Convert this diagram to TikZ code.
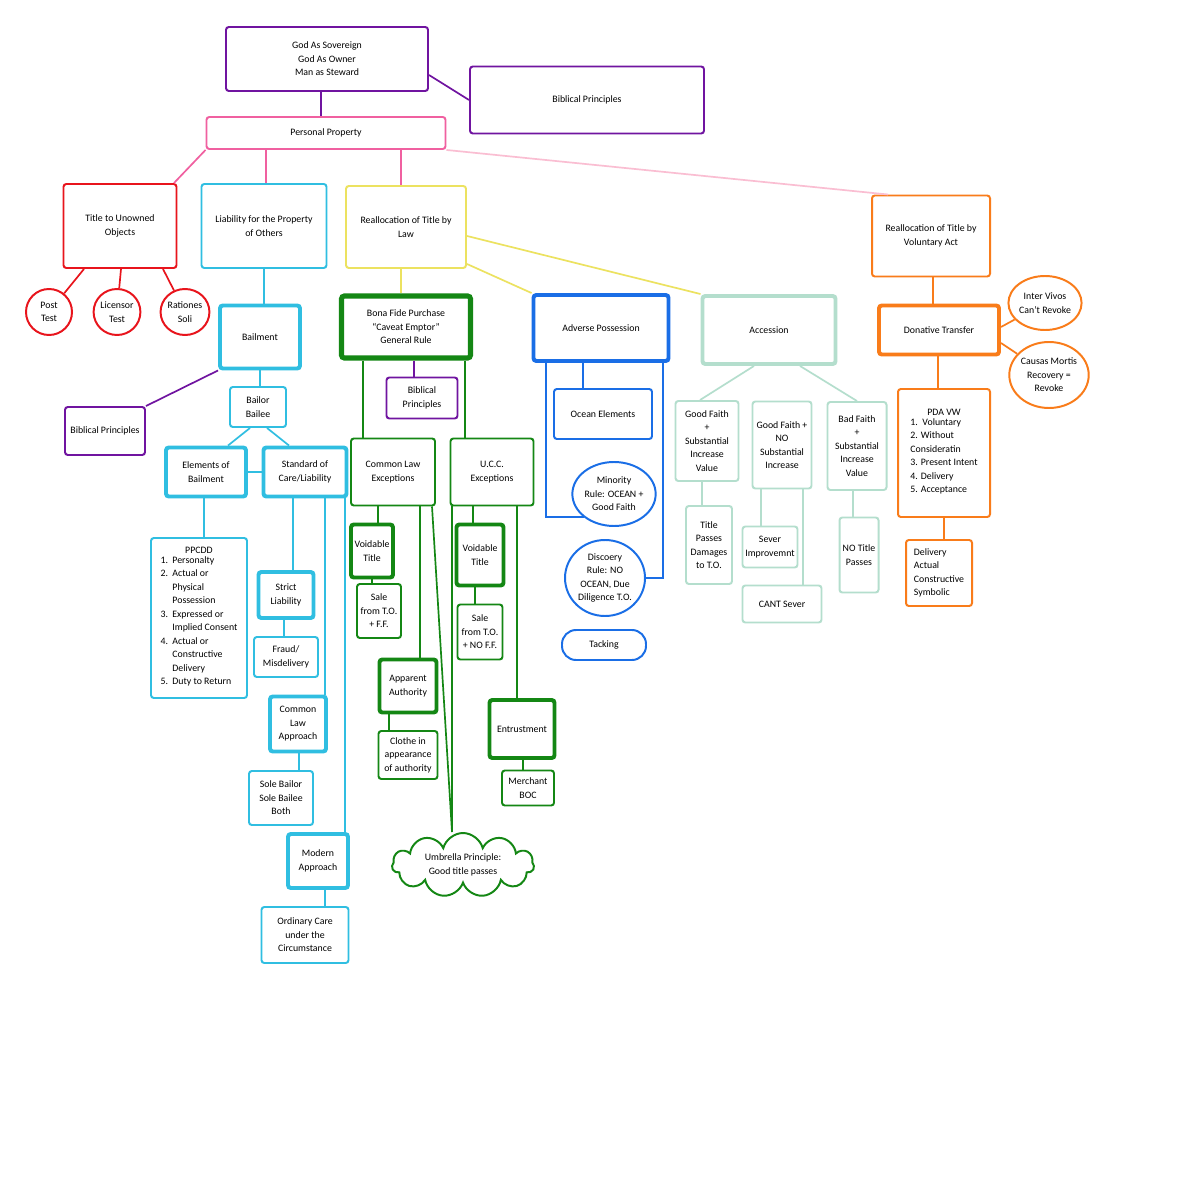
\documentclass[tikz,border=0pt]{standalone}
\usepackage{fontspec}
\setmainfont{Carlito}
\usetikzlibrary{shapes.geometric,shapes.symbols}
\definecolor{cpurple}{RGB}{112,20,160}
\definecolor{cpink}{RGB}{240,96,160}
\definecolor{cpinkl}{RGB}{250,190,210}
\definecolor{cred}{RGB}{232,20,28}
\definecolor{ccyan}{RGB}{48,190,225}
\definecolor{cyellow}{RGB}{236,226,96}
\definecolor{cgreen}{RGB}{20,135,20}
\definecolor{cblue}{RGB}{26,110,230}
\definecolor{cmint}{RGB}{180,222,205}
\definecolor{corange}{RGB}{249,124,26}
\begin{document}
\begin{tikzpicture}[x=0.025cm,y=-0.025cm,
  every node/.style={font=\fontsize{7}{9.6}\selectfont, align=center, inner sep=1pt},
  sz/.style 2 args={minimum width=#1*0.025cm, minimum height=#2*0.025cm},
  bx/.style={draw, rounded corners=2pt, line width=1.4pt},
  tk/.style={draw, rounded corners=2pt, line width=2.8pt},
  circ/.style={draw, ellipse, line width=1.4pt, inner sep=0pt},
  cn/.style={line width=1.2pt}]
\fill[white] (0,0) rectangle (1200,1200);
\useasboundingbox (0,0) rectangle (1200,1200);

% ---- top
\node[bx, draw=cpurple, sz={202}{64}] (god) at (327,59) {God As Sovereign\\God As Owner\\Man as Steward};
\node[bx, draw=cpurple, sz={234}{67}] (bib1) at (587,100) {Biblical Principles};
\node[bx, draw=cpink, sz={239}{32}] (pp) at (326,133) {Personal Property};

% ---- level 2
\node[bx, draw=cred, sz={113}{84}] (ttl) at (120,226) {Title to Unowned\\Objects};
\node[bx, draw=ccyan, sz={125}{84}] (liab) at (264,226) {Liability for the Property\\of Others};
\node[bx, draw=cyellow, sz={120}{82}] (rlaw) at (406,227) {Reallocation of Title by\\Law};
\node[bx, draw=corange, sz={118}{81}] (rvol) at (931,236) {Reallocation of Title by\\Voluntary Act};

% ---- red circles
\node[circ, draw=cred, sz={46}{46}] (post) at (49,312) {Post\\Test};
\node[circ, draw=cred, sz={46}{46}] (lic) at (117,312) {Licensor\\Test};
\node[circ, draw=cred, sz={46}{46}] (rat) at (185,312) {Rationes\\Soli};

% ---- cyan branch
\node[tk, draw=ccyan, sz={80}{63}] (bail) at (260,337) {Bailment};
\node[bx, draw=cpurple, sz={80}{48}] (bib2) at (105,431) {Biblical Principles};
\node[bx, draw=ccyan, sz={56}{40}] (bb) at (258,407) {Bailor\\Bailee};
\node[tk, draw=ccyan, sz={80}{49}] (elem) at (206,472) {Elements of\\Bailment};
\node[tk, draw=ccyan, sz={83}{49}] (std) at (305,472) {Standard of\\Care/Liability};
\node[bx, draw=ccyan, sz={96}{160}] (ppcdd) at (199,618) {PPCDD\\[-1pt]\begin{tabular}{@{}l@{\ \ }l@{}}1.&Personalty\\2.&Actual or\\&Physical\\&Possession\\3.&Expressed or\\&Implied Consent\\4.&Actual or\\&Constructive\\&Delivery\\5.&Duty to Return\end{tabular}};
\node[tk, draw=ccyan, sz={55}{46}] (strict) at (286,595) {Strict\\Liability};
\node[bx, draw=ccyan, sz={64}{40}] (fraud) at (286,657) {Fraud/\\Misdelivery};
\node[tk, draw=ccyan, sz={56}{55}] (cla) at (298,724) {Common\\Law\\Approach};
\node[bx, draw=ccyan, sz={64}{54}] (sole) at (281,798) {Sole Bailor\\Sole Bailee\\Both};
\node[tk, draw=ccyan, sz={60}{54}] (modern) at (318,861) {Modern\\Approach};
\node[bx, draw=ccyan, sz={87}{56}] (ord) at (305,935) {Ordinary Care\\under the\\Circumstance};

% ---- green branch
\node[tk, draw=cgreen, line width=3.6pt, sz={129}{62}] (bfp) at (406,327) {Bona Fide Purchase\\``Caveat Emptor''\\General Rule};
\node[bx, draw=cpurple, sz={71}{41}] (bib3) at (422,398) {Biblical\\Principles};
\node[bx, draw=cgreen, sz={84}{67}] (cle) at (393,472) {Common Law\\Exceptions};
\node[bx, draw=cgreen, sz={83}{67}] (ucc) at (492,472) {U.C.C.\\Exceptions};
\node[tk, draw=cgreen, sz={42}{53}] (vt1) at (372,551) {Voidable\\Title};
\node[bx, draw=cgreen, sz={44}{54}] (sale1) at (379,611) {Sale\\from T.O.\\+ F.F.};
\node[tk, draw=cgreen, sz={57}{53}] (appa) at (408,686) {Apparent\\Authority};
\node[bx, draw=cgreen, sz={59}{48}] (clothe) at (408,755) {Clothe in\\appearance\\of authority};
\node[tk, draw=cgreen, sz={47}{61}] (vt2) at (480,555) {Voidable\\Title};
\node[bx, draw=cgreen, sz={45}{55}] (sale2) at (480,632) {Sale\\from T.O.\\+ NO F.F.};
\node[tk, draw=cgreen, sz={65}{58}] (ent) at (522,729) {Entrustment};
\node[bx, draw=cgreen, sz={52}{35}] (merch) at (528,788) {Merchant\\BOC};
\node[cloud, draw=cgreen, line width=1.4pt, cloud puffs=11, cloud ignores aspect, sz={142}{64}] (umb) at (463,865) {Umbrella Principle:\\Good title passes};

% ---- blue branch
\node[tk, draw=cblue, sz={135}{66}] (ap) at (601,328) {Adverse Possession};
\node[bx, draw=cblue, sz={98}{50}] (ocean) at (603,414) {Ocean Elements};
\node[circ, draw=cblue, sz={74}{64}] (minor) at (614,494) {Minority\\Rule: OCEAN +\\Good Faith};
\node[circ, draw=cblue, sz={80}{76}] (disc) at (605,578) {Discoery\\Rule: NO\\OCEAN, Due\\Diligence T.O.};
\node[draw=cblue, line width=1.4pt, rounded corners=10pt, sz={84}{30}] (tack) at (604,645) {Tacking};

% ---- mint branch
\node[tk, draw=cmint, sz={133}{68}] (acc) at (769,330) {Accession};
\node[bx, draw=cmint, sz={63}{80}] (gf1) at (707,441) {Good Faith\\+\\Substantial\\Increase\\Value};
\node[bx, draw=cmint, sz={59}{87}] (gf2) at (782,445) {Good Faith +\\NO\\Substantial\\Increase};
\node[bx, draw=cmint, sz={59}{88}] (bf) at (857,446) {Bad Faith\\+\\Substantial\\Increase\\Value};
\node[bx, draw=cmint, sz={46}{78}] (tp) at (709,545) {Title\\Passes\\Damages\\to T.O.};
\node[bx, draw=cmint, sz={55}{41}] (sever) at (770,547) {Sever\\Improvemnt};
\node[bx, draw=cmint, sz={79}{37}] (cant) at (782,604) {CANT Sever};
\node[bx, draw=cmint, sz={39}{75}] (notp) at (859,555) {NO Title\\Passes};

% ---- orange branch
\node[tk, draw=corange, sz={120}{49}] (don) at (939,330) {Donative Transfer};
\node[circ, draw=corange, sz={68}{54}] (iv) at (1045,303) {Inter Vivos\\Can't Revoke};
\node[circ, draw=corange, sz={76}{66}] (cm) at (1049,375) {Causas Mortis\\Recovery =\\Revoke};
\node[bx, draw=corange, sz={92}{128}] (pda) at (944,453) {PDA VW\\[-1pt]\begin{tabular}{@{}l@{}}1.\ \ Voluntary\\2. Without\\Consideratin\\3. Present Intent\\4. Delivery\\5. Acceptance\end{tabular}};
\node[bx, draw=corange, sz={66}{66}, align=left] (deliv) at (939,573) {Delivery\\Actual\\Constructive\\Symbolic};

% ---- connectors
\draw[cn, cpurple] (god.south -| 321,0) -- (pp.north -| 321,0);
\draw[cn, cpurple] (god.east |- 0,75) -- (bib1.west);
\draw[cn, cpink] (pp.south west) -- (ttl.north -| 174,0);
\draw[cn, cpink] (pp.south -| 266,0) -- (liab.north -| 266,0);
\draw[cn, cpink] (pp.south -| 401,0) -- (rlaw.north -| 401,0);
\draw[cn, cpinkl] (pp.south east) -- (rvol.north -| 888,0);
\draw[cn, cred] (ttl.south -| 84,0) -- (post);
\draw[cn, cred] (ttl.south -| 121,0) -- (lic);
\draw[cn, cred] (ttl.south -| 163,0) -- (rat);

\draw[cn, ccyan] (liab.south -| 264,0) -- (bail.north -| 264,0);
\draw[cn, cpurple] (bail.south west) -- (bib2.north east);
\draw[cn, ccyan] (bail.south -| 260,0) -- (bb.north -| 260,0);
\draw[cn, ccyan] (bb.south -| 250,0) -- (elem.north -| 228,0);
\draw[cn, ccyan] (bb.south -| 267,0) -- (std.north -| 289,0);
\draw[cn, ccyan] (elem.east) -- (std.west);
\draw[cn, ccyan] (elem.south -| 204,0) -- (ppcdd.north -| 204,0);
\draw[cn, ccyan] (std.south -| 293,0) -- (strict.north -| 293,0);
\draw[cn, ccyan] (strict.south -| 284,0) -- (fraud.north -| 284,0);
\draw[cn, ccyan] (std.south -| 325,0) -- (cla.north -| 325,0);
\draw[cn, ccyan] (std.south -| 345,0) -- (modern.north -| 345,0);
\draw[cn, ccyan] (cla.south -| 299,0) -- (sole.north -| 299,0);
\draw[cn, ccyan] (modern.south -| 325,0) -- (ord.north -| 325,0);

\draw[cn, cyellow] (rlaw.south -| 401,0) -- (bfp.north -| 401,0);
\draw[cn, cyellow] (rlaw.east |- 0,264) -- (ap.north west);
\draw[cn, cyellow] (rlaw.east |- 0,236) -- (acc.north west);

\draw[cn, cpurple] (bfp.south -| 414,0) -- (bib3.north -| 414,0);
\draw[cn, cgreen] (bfp.south -| 363,0) -- (cle.north -| 363,0);
\draw[cn, cgreen] (bfp.south -| 465,0) -- (ucc.north -| 465,0);
\draw[cn, cgreen] (cle.south -| 378,0) -- (vt1.north -| 378,0);
\draw[cn, cgreen] (vt1.south -| 372,0) -- (sale1.north -| 372,0);
\draw[cn, cgreen] (cle.south -| 420,0) -- (appa.north -| 420,0);
\draw[cn, cgreen] (appa.south -| 389,0) -- (clothe.north -| 389,0);
\draw[cn, cgreen] (cle.south -| 432,0) -- (umb.north -| 452,0);
\draw[cn, cgreen] (ucc.south -| 452,0) -- (umb.north -| 452,0);
\draw[cn, cgreen] (ucc.south -| 473,0) -- (vt2.north -| 473,0);
\draw[cn, cgreen] (vt2.south -| 475,0) -- (sale2.north -| 475,0);
\draw[cn, cgreen] (ucc.south -| 517,0) -- (ent.north -| 517,0);
\draw[cn, cgreen] (ent.south -| 523,0) -- (merch.north -| 523,0);

\draw[cn, cblue] (ap.south -| 583,0) -- (ocean.north -| 583,0);
\draw[cn, cblue] (ap.south -| 546,0) |- (minor.south west);
\draw[cn, cblue] (ap.south -| 663,0) |- (disc.east);

\draw[cn, cmint] (acc.south -| 754,0) -- (gf1.north -| 700,0);
\draw[cn, cmint] (acc.south -| 800,0) -- (bf.north -| 857,0);
\draw[cn, cmint] (gf1.south -| 702,0) -- (tp.north -| 702,0);
\draw[cn, cmint] (gf2.south -| 761,0) -- (sever.north -| 761,0);
\draw[cn, cmint] (gf2.south -| 803,0) -- (cant.north -| 803,0);
\draw[cn, cmint] (bf.south -| 853,0) -- (notp.north -| 853,0);

\draw[cn, corange] (rvol.south -| 933,0) -- (don.north -| 933,0);
\draw[cn, corange] (don.east |- 0,327) -- (iv);
\draw[cn, corange] (don.east |- 0,343) -- (cm);
\draw[cn, corange] (don.south -| 938,0) -- (pda.north -| 938,0);
\draw[cn, corange] (pda.south -| 944,0) -- (deliv.north -| 944,0);
\end{tikzpicture}
\end{document}
